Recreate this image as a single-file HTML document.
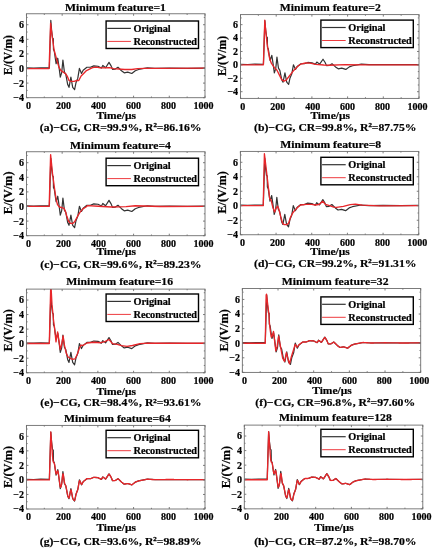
<!DOCTYPE html>
<html><head><meta charset="utf-8"><title>Minimum feature reconstruction</title>
<style>
html,body{margin:0;padding:0;background:#fff;}
body{width:434px;height:550px;overflow:hidden;}
svg{display:block;filter:blur(0.4px);}
svg text{font-family:'Liberation Serif','Times New Roman',serif;font-weight:bold;fill:#000;stroke:#000;stroke-width:0.22px;}
</style></head><body>
<svg width="434" height="550" viewBox="0 0 434 550">
<clipPath id="ca"><rect x="26.45" y="13.77" width="178.55" height="83.93"/></clipPath>
<g clip-path="url(#ca)" fill="none" stroke-linejoin="round">
<polyline points="26.45,67.92 33.59,68.07 40.73,67.78 49.39,67.92 50.80,20.41 51.63,30.56 52.52,37.85 53.29,38.58 53.46,49.53 54.30,51.28 55.20,57.78 56.09,63.76 57.77,58.22 58.89,66.10 60.30,77.19 61.70,72.59 62.91,60.04 64.41,72.08 65.80,74.42 67.70,84.56 69.00,87.34 70.89,77.19 72.69,87.34 74.60,89.67 76.00,82.74 77.80,78.14 79.41,68.36 81.50,73.47 82.91,70.70 83.50,69.97 86.91,67.27 90.41,67.27 93.80,65.88 97.99,66.24 101.41,68.00 102.80,65.44 105.60,67.70 108.99,62.38 111.10,65.88 112.49,69.31 115.30,69.09 117.99,67.27 121.49,70.70 124.21,72.81 127.71,72.08 131.79,73.47 135.29,70.70 138.58,69.46 147.33,67.78 155.01,68.29 169.29,68.07 187.15,68.29 205.00,68.14" stroke="#333333" stroke-width="1.20"/>
<polyline points="26.45,68.60 49.10,68.60 50.60,23.20 52.00,35.00 54.10,50.00 57.20,61.50 59.10,67.60 61.00,70.60 63.30,72.10 65.60,73.70 67.50,76.70 69.00,80.50 70.90,81.30 74.00,81.30 77.00,80.50 78.80,80.50 81.10,76.00 83.40,73.70 86.50,70.60 89.50,69.10 92.60,67.60 96.40,67.20 100.20,67.90 109.60,67.60 113.50,68.70 124.90,69.50 131.80,69.50 137.60,68.70 145.30,68.30 159.80,68.30 205.00,68.20" stroke="#e8262a" stroke-width="1.35"/>
</g>
<rect x="26.45" y="13.77" width="178.55" height="83.93" fill="none" stroke="#6e6e6e" stroke-width="0.90"/>
<path d="M26.45 97.70v-2.00M26.45 13.77v2.00M44.30 97.70v-1.20M44.30 13.77v1.20M62.16 97.70v-2.00M62.16 13.77v2.00M80.02 97.70v-1.20M80.02 13.77v1.20M97.87 97.70v-2.00M97.87 13.77v2.00M115.73 97.70v-1.20M115.73 13.77v1.20M133.58 97.70v-2.00M133.58 13.77v2.00M151.44 97.70v-1.20M151.44 13.77v1.20M169.29 97.70v-2.00M169.29 13.77v2.00M187.14 97.70v-1.20M187.14 13.77v1.20M205.00 97.70v-2.00M205.00 13.77v2.00M26.45 97.70h2.00M205.00 97.70h-2.00M26.45 90.40h1.20M205.00 90.40h-1.20M26.45 83.10h2.00M205.00 83.10h-2.00M26.45 75.81h1.20M205.00 75.81h-1.20M26.45 68.51h2.00M205.00 68.51h-2.00M26.45 61.21h1.20M205.00 61.21h-1.20M26.45 53.91h2.00M205.00 53.91h-2.00M26.45 46.61h1.20M205.00 46.61h-1.20M26.45 39.31h2.00M205.00 39.31h-2.00M26.45 32.02h1.20M205.00 32.02h-1.20M26.45 24.72h2.00M205.00 24.72h-2.00M26.45 17.42h1.20M205.00 17.42h-1.20" stroke="#6e6e6e" stroke-width="0.90" fill="none"/>
<g style="font-size:10.00px"><text x="28.60" y="108.80" text-anchor="middle">0</text><text x="63.60" y="108.80" text-anchor="middle">200</text><text x="98.60" y="108.80" text-anchor="middle">400</text><text x="133.60" y="108.80" text-anchor="middle">600</text><text x="168.60" y="108.80" text-anchor="middle">800</text><text x="203.60" y="108.80" text-anchor="middle">1000</text><text x="24.05" y="101.10" text-anchor="end">−4</text><text x="24.05" y="86.50" text-anchor="end">−2</text><text x="24.05" y="71.91" text-anchor="end">0</text><text x="24.05" y="57.31" text-anchor="end">2</text><text x="24.05" y="42.71" text-anchor="end">4</text><text x="24.05" y="28.12" text-anchor="end">6</text></g>
<text transform="translate(116.12 118.70) scale(1 0.920)" text-anchor="middle" style="font-size:11.50px">Time/μs</text>
<text transform="translate(12.05 55.00) rotate(-90)" text-anchor="middle" style="font-size:11.55px">E/(V/m)</text>
<text transform="translate(115.40 10.60) scale(1 0.880)" text-anchor="middle" style="font-size:11.70px">Minimum feature=1</text>
<text transform="translate(120.65 130.90) scale(1 0.890)" text-anchor="middle" style="font-size:11.70px">(a)−CG, CR=99.9%, R<tspan dy="-4.0" style="font-size:6.9px;stroke:#000;stroke-width:0.35px">2</tspan><tspan dy="4.0">=86.16%</tspan></text>
<rect x="106.10" y="21.00" width="92.40" height="27.50" fill="#fff" stroke="#000" stroke-width="1.4"/>
<path d="M107.30 28.40h23.6" stroke="#333333" stroke-width="1.20"/>
<path d="M107.30 41.40h23.6" stroke="#ee3b3f" stroke-width="1.0"/>
<text x="133.50" y="31.90" style="font-size:10.3px">Original</text>
<text x="133.50" y="44.90" style="font-size:10.3px">Reconstructed</text>
<clipPath id="cb"><rect x="240.50" y="14.60" width="178.50" height="83.80"/></clipPath>
<g clip-path="url(#cb)" fill="none" stroke-linejoin="round">
<polyline points="240.50,64.34 247.64,64.48 254.78,64.21 263.44,64.34 264.85,20.70 265.67,30.02 266.56,36.72 267.33,37.39 267.51,47.45 268.35,49.06 269.24,55.03 270.13,60.52 271.81,55.43 272.93,62.67 274.34,72.86 275.74,68.63 276.95,57.10 278.45,68.16 279.84,70.31 281.73,79.63 283.04,82.18 284.93,72.86 286.73,82.18 288.64,84.32 290.03,77.95 291.84,73.73 293.44,64.75 295.53,69.44 296.94,66.89 297.53,66.22 300.94,63.74 304.44,63.74 307.83,62.47 312.02,62.80 315.43,64.41 316.83,62.06 319.63,64.14 323.02,59.25 325.13,62.47 326.52,65.62 329.32,65.42 332.02,63.74 335.52,66.89 338.23,68.84 341.73,68.16 345.81,69.44 349.31,66.89 352.60,65.75 361.34,64.21 369.02,64.68 383.30,64.48 401.15,64.68 419.00,64.54" stroke="#333333" stroke-width="1.20"/>
<polyline points="240.50,64.81 263.40,64.81 264.79,20.23 265.90,32.23 267.01,43.09 268.01,49.53 269.51,57.97 271.29,63.20 274.20,67.43 277.00,70.18 279.81,75.87 281.70,79.70 284.11,81.10 286.00,80.23 288.39,77.28 291.19,73.60 294.00,70.18 297.30,66.69 300.80,64.08 305.40,63.00 310.01,63.20 315.72,64.41 323.81,65.01 329.57,65.22 344.99,64.68 365.45,64.88 419.00,64.88" stroke="#e8262a" stroke-width="1.35"/>
</g>
<rect x="240.50" y="14.60" width="178.50" height="83.80" fill="none" stroke="#6e6e6e" stroke-width="0.90"/>
<path d="M240.50 98.40v-2.00M240.50 14.60v2.00M258.35 98.40v-1.20M258.35 14.60v1.20M276.20 98.40v-2.00M276.20 14.60v2.00M294.05 98.40v-1.20M294.05 14.60v1.20M311.90 98.40v-2.00M311.90 14.60v2.00M329.75 98.40v-1.20M329.75 14.60v1.20M347.60 98.40v-2.00M347.60 14.60v2.00M365.45 98.40v-1.20M365.45 14.60v1.20M383.30 98.40v-2.00M383.30 14.60v2.00M401.15 98.40v-1.20M401.15 14.60v1.20M419.00 98.40v-2.00M419.00 14.60v2.00M240.50 98.40h1.20M419.00 98.40h-1.20M240.50 91.70h2.00M419.00 91.70h-2.00M240.50 84.99h1.20M419.00 84.99h-1.20M240.50 78.29h2.00M419.00 78.29h-2.00M240.50 71.58h1.20M419.00 71.58h-1.20M240.50 64.88h2.00M419.00 64.88h-2.00M240.50 58.18h1.20M419.00 58.18h-1.20M240.50 51.47h2.00M419.00 51.47h-2.00M240.50 44.77h1.20M419.00 44.77h-1.20M240.50 38.06h2.00M419.00 38.06h-2.00M240.50 31.36h1.20M419.00 31.36h-1.20M240.50 24.66h2.00M419.00 24.66h-2.00M240.50 17.95h1.20M419.00 17.95h-1.20" stroke="#6e6e6e" stroke-width="0.90" fill="none"/>
<g style="font-size:10.00px"><text x="242.65" y="109.50" text-anchor="middle">0</text><text x="277.64" y="109.50" text-anchor="middle">200</text><text x="312.63" y="109.50" text-anchor="middle">400</text><text x="347.62" y="109.50" text-anchor="middle">600</text><text x="382.61" y="109.50" text-anchor="middle">800</text><text x="417.60" y="109.50" text-anchor="middle">1000</text><text x="238.10" y="95.10" text-anchor="end">−4</text><text x="238.10" y="81.69" text-anchor="end">−2</text><text x="238.10" y="68.28" text-anchor="end">0</text><text x="238.10" y="54.87" text-anchor="end">2</text><text x="238.10" y="41.46" text-anchor="end">4</text><text x="238.10" y="28.06" text-anchor="end">6</text></g>
<text transform="translate(330.15 119.40) scale(1 0.920)" text-anchor="middle" style="font-size:11.50px">Time/μs</text>
<text transform="translate(225.95 55.95) rotate(-90)" text-anchor="middle" style="font-size:11.60px">E/(V/m)</text>
<text transform="translate(330.25 10.90) scale(1 0.880)" text-anchor="middle" style="font-size:11.70px">Minimum feature=2</text>
<text transform="translate(335.30 130.90) scale(1 0.890)" text-anchor="middle" style="font-size:11.70px">(b)−CG, CR=99.8%, R<tspan dy="-4.0" style="font-size:6.9px;stroke:#000;stroke-width:0.35px">2</tspan><tspan dy="4.0">=87.75%</tspan></text>
<rect x="320.90" y="20.10" width="92.40" height="27.50" fill="#fff" stroke="#000" stroke-width="1.4"/>
<path d="M322.10 27.50h23.6" stroke="#333333" stroke-width="1.20"/>
<path d="M322.10 40.50h23.6" stroke="#ee3b3f" stroke-width="1.0"/>
<text x="348.30" y="31.00" style="font-size:10.3px">Original</text>
<text x="348.30" y="44.00" style="font-size:10.3px">Reconstructed</text>
<clipPath id="cc"><rect x="26.45" y="151.75" width="178.55" height="83.95"/></clipPath>
<g clip-path="url(#cc)" fill="none" stroke-linejoin="round">
<polyline points="26.45,205.92 33.59,206.06 40.73,205.77 49.39,205.92 50.80,158.39 51.63,168.54 52.52,175.84 53.29,176.57 53.46,187.52 54.30,189.27 55.20,195.77 56.09,201.75 57.77,196.21 58.89,204.09 60.30,215.19 61.70,210.59 62.91,198.03 64.41,210.08 65.80,212.41 67.70,222.56 69.00,225.33 70.89,215.19 72.69,225.33 74.60,227.67 76.00,220.73 77.80,216.14 79.41,206.35 81.50,211.46 82.91,208.69 83.50,207.96 86.91,205.26 90.41,205.26 93.80,203.87 97.99,204.24 101.41,205.99 102.80,203.43 105.60,205.70 108.99,200.37 111.10,203.87 112.49,207.30 115.30,207.08 117.99,205.26 121.49,208.69 124.21,210.81 127.71,210.08 131.79,211.46 135.29,208.69 138.58,207.45 147.33,205.77 155.01,206.28 169.29,206.06 187.15,206.28 205.00,206.13" stroke="#333333" stroke-width="1.20"/>
<polyline points="26.45,206.35 49.20,206.35 50.61,154.67 52.52,173.65 54.75,190.00 56.09,199.20 57.50,204.68 59.39,207.01 61.70,207.52 64.00,208.40 65.37,211.17 66.70,215.77 68.59,221.32 70.43,223.22 72.69,223.58 74.60,221.83 77.30,216.72 80.10,212.12 82.91,208.91 86.00,207.01 87.41,205.70 98.41,206.21 111.26,207.01 126.08,206.57 135.29,205.77 160.01,206.50 205.00,206.35" stroke="#e8262a" stroke-width="1.35"/>
</g>
<rect x="26.45" y="151.75" width="178.55" height="83.95" fill="none" stroke="#6e6e6e" stroke-width="0.90"/>
<path d="M26.45 235.70v-2.00M26.45 151.75v2.00M44.30 235.70v-1.20M44.30 151.75v1.20M62.16 235.70v-2.00M62.16 151.75v2.00M80.02 235.70v-1.20M80.02 151.75v1.20M97.87 235.70v-2.00M97.87 151.75v2.00M115.73 235.70v-1.20M115.73 151.75v1.20M133.58 235.70v-2.00M133.58 151.75v2.00M151.44 235.70v-1.20M151.44 151.75v1.20M169.29 235.70v-2.00M169.29 151.75v2.00M187.14 235.70v-1.20M187.14 151.75v1.20M205.00 235.70v-2.00M205.00 151.75v2.00M26.45 235.70h2.00M205.00 235.70h-2.00M26.45 228.40h1.20M205.00 228.40h-1.20M26.45 221.10h2.00M205.00 221.10h-2.00M26.45 213.80h1.20M205.00 213.80h-1.20M26.45 206.50h2.00M205.00 206.50h-2.00M26.45 199.20h1.20M205.00 199.20h-1.20M26.45 191.90h2.00M205.00 191.90h-2.00M26.45 184.60h1.20M205.00 184.60h-1.20M26.45 177.30h2.00M205.00 177.30h-2.00M26.45 170.00h1.20M205.00 170.00h-1.20M26.45 162.70h2.00M205.00 162.70h-2.00M26.45 155.40h1.20M205.00 155.40h-1.20" stroke="#6e6e6e" stroke-width="0.90" fill="none"/>
<g style="font-size:10.00px"><text x="28.60" y="246.80" text-anchor="middle">0</text><text x="63.60" y="246.80" text-anchor="middle">200</text><text x="98.60" y="246.80" text-anchor="middle">400</text><text x="133.60" y="246.80" text-anchor="middle">600</text><text x="168.60" y="246.80" text-anchor="middle">800</text><text x="203.60" y="246.80" text-anchor="middle">1000</text><text x="24.05" y="239.10" text-anchor="end">−4</text><text x="24.05" y="224.50" text-anchor="end">−2</text><text x="24.05" y="209.90" text-anchor="end">0</text><text x="24.05" y="195.30" text-anchor="end">2</text><text x="24.05" y="180.70" text-anchor="end">4</text><text x="24.05" y="166.10" text-anchor="end">6</text></g>
<text transform="translate(116.12 255.10) scale(1 0.920)" text-anchor="middle" style="font-size:11.50px">Time/μs</text>
<text transform="translate(11.95 192.80) rotate(-90)" text-anchor="middle" style="font-size:12.40px">E/(V/m)</text>
<text transform="translate(120.40 149.30) scale(1 0.880)" text-anchor="middle" style="font-size:11.70px">Minimum feature=4</text>
<text transform="translate(120.90 267.50) scale(1 0.890)" text-anchor="middle" style="font-size:11.70px">(c)−CG, CR=99.6%, R<tspan dy="-4.0" style="font-size:6.9px;stroke:#000;stroke-width:0.35px">2</tspan><tspan dy="4.0">=89.23%</tspan></text>
<rect x="106.10" y="158.20" width="92.40" height="27.50" fill="#fff" stroke="#000" stroke-width="1.4"/>
<path d="M107.30 165.60h23.6" stroke="#333333" stroke-width="1.20"/>
<path d="M107.30 178.60h23.6" stroke="#ee3b3f" stroke-width="1.0"/>
<text x="133.50" y="169.10" style="font-size:10.3px">Original</text>
<text x="133.50" y="182.10" style="font-size:10.3px">Reconstructed</text>
<clipPath id="cd"><rect x="240.40" y="151.40" width="178.35" height="83.35"/></clipPath>
<g clip-path="url(#cd)" fill="none" stroke-linejoin="round">
<polyline points="240.40,205.18 247.53,205.32 254.67,205.03 263.32,205.18 264.73,158.00 265.55,168.07 266.44,175.32 267.21,176.04 267.38,186.91 268.22,188.65 269.11,195.10 270.01,201.05 271.68,195.54 272.81,203.37 274.22,214.38 275.61,209.82 276.82,197.35 278.32,209.31 279.71,211.63 281.60,221.70 282.90,224.46 284.79,214.38 286.59,224.46 288.50,226.78 289.89,219.89 291.69,215.33 293.30,205.61 295.39,210.69 296.79,207.93 297.38,207.21 300.79,204.53 304.28,204.53 307.67,203.15 311.86,203.51 315.27,205.25 316.66,202.71 319.46,204.96 322.85,199.67 324.96,203.15 326.35,206.56 329.15,206.34 331.84,204.53 335.34,207.93 338.05,210.03 341.54,209.31 345.63,210.69 349.12,207.93 352.40,206.70 361.14,205.03 368.81,205.54 383.08,205.32 400.91,205.54 418.75,205.40" stroke="#333333" stroke-width="1.20"/>
<polyline points="240.40,205.61 263.23,205.61 264.41,153.79 265.99,166.98 267.51,180.17 268.40,187.78 268.79,190.03 269.70,198.80 271.09,200.11 272.90,207.50 274.61,212.06 276.11,208.37 277.50,206.12 278.91,209.38 280.71,216.70 282.60,223.23 284.01,224.60 286.70,224.60 288.61,223.23 290.39,217.57 292.69,213.01 294.99,210.11 297.79,207.35 300.50,205.03 306.10,204.38 311.60,204.38 315.70,205.03 319.20,204.38 322.71,201.27 325.40,204.38 329.59,205.69 333.68,207.14 336.49,207.43 343.40,206.41 350.19,204.67 355.40,204.16 362.30,205.18 379.60,205.90 418.75,205.61" stroke="#e8262a" stroke-width="1.35"/>
</g>
<rect x="240.40" y="151.40" width="178.35" height="83.35" fill="none" stroke="#6e6e6e" stroke-width="0.90"/>
<path d="M240.40 234.75v-2.00M240.40 151.40v2.00M258.24 234.75v-1.20M258.24 151.40v1.20M276.07 234.75v-2.00M276.07 151.40v2.00M293.90 234.75v-1.20M293.90 151.40v1.20M311.74 234.75v-2.00M311.74 151.40v2.00M329.57 234.75v-1.20M329.57 151.40v1.20M347.41 234.75v-2.00M347.41 151.40v2.00M365.25 234.75v-1.20M365.25 151.40v1.20M383.08 234.75v-2.00M383.08 151.40v2.00M400.91 234.75v-1.20M400.91 151.40v1.20M418.75 234.75v-2.00M418.75 151.40v2.00M240.40 234.75h2.00M418.75 234.75h-2.00M240.40 227.50h1.20M418.75 227.50h-1.20M240.40 220.25h2.00M418.75 220.25h-2.00M240.40 213.01h1.20M418.75 213.01h-1.20M240.40 205.76h2.00M418.75 205.76h-2.00M240.40 198.51h1.20M418.75 198.51h-1.20M240.40 191.26h2.00M418.75 191.26h-2.00M240.40 184.02h1.20M418.75 184.02h-1.20M240.40 176.77h2.00M418.75 176.77h-2.00M240.40 169.52h1.20M418.75 169.52h-1.20M240.40 162.27h2.00M418.75 162.27h-2.00M240.40 155.02h1.20M418.75 155.02h-1.20" stroke="#6e6e6e" stroke-width="0.90" fill="none"/>
<g style="font-size:10.00px"><text x="242.55" y="245.85" text-anchor="middle">0</text><text x="277.51" y="245.85" text-anchor="middle">200</text><text x="312.47" y="245.85" text-anchor="middle">400</text><text x="347.43" y="245.85" text-anchor="middle">600</text><text x="382.39" y="245.85" text-anchor="middle">800</text><text x="417.35" y="245.85" text-anchor="middle">1000</text><text x="238.00" y="238.15" text-anchor="end">−4</text><text x="238.00" y="223.65" text-anchor="end">−2</text><text x="238.00" y="209.16" text-anchor="end">0</text><text x="238.00" y="194.66" text-anchor="end">2</text><text x="238.00" y="180.17" text-anchor="end">4</text><text x="238.00" y="165.67" text-anchor="end">6</text></g>
<text transform="translate(329.97 254.50) scale(1 0.920)" text-anchor="middle" style="font-size:11.50px">Time/μs</text>
<text transform="translate(226.15 192.40) rotate(-90)" text-anchor="middle" style="font-size:12.35px">E/(V/m)</text>
<text transform="translate(330.65 147.60) scale(1 0.880)" text-anchor="middle" style="font-size:11.70px">Minimum feature=8</text>
<text transform="translate(335.25 267.00) scale(1 0.890)" text-anchor="middle" style="font-size:11.70px">(d)−CG, CR=99.2%, R<tspan dy="-4.0" style="font-size:6.9px;stroke:#000;stroke-width:0.35px">2</tspan><tspan dy="4.0">=91.31%</tspan></text>
<rect x="320.90" y="157.30" width="92.40" height="27.50" fill="#fff" stroke="#000" stroke-width="1.4"/>
<path d="M322.10 164.70h23.6" stroke="#333333" stroke-width="1.20"/>
<path d="M322.10 177.70h23.6" stroke="#ee3b3f" stroke-width="1.0"/>
<text x="348.30" y="168.20" style="font-size:10.3px">Original</text>
<text x="348.30" y="181.20" style="font-size:10.3px">Reconstructed</text>
<clipPath id="ce"><rect x="26.45" y="289.10" width="178.55" height="83.65"/></clipPath>
<g clip-path="url(#ce)" fill="none" stroke-linejoin="round">
<polyline points="26.45,343.07 33.59,343.22 40.73,342.93 49.39,343.07 50.80,295.72 51.63,305.83 52.52,313.10 53.29,313.83 53.46,324.74 54.30,326.49 55.20,332.96 56.09,338.93 57.77,333.40 58.89,341.25 60.30,352.31 61.70,347.73 62.91,335.22 64.41,347.22 65.80,349.55 67.70,359.66 69.00,362.42 70.89,352.31 72.69,362.42 74.60,364.75 76.00,357.84 77.80,353.26 79.41,343.51 81.50,348.60 82.91,345.84 83.50,345.11 86.91,342.42 90.41,342.42 93.80,341.04 97.99,341.40 101.41,343.15 102.80,340.60 105.60,342.85 108.99,337.54 111.10,341.04 112.49,344.45 115.30,344.24 117.99,342.42 121.49,345.84 124.21,347.95 127.71,347.22 131.79,348.60 135.29,345.84 138.58,344.60 147.33,342.93 155.01,343.44 169.29,343.22 187.15,343.44 205.00,343.29" stroke="#333333" stroke-width="1.20"/>
<polyline points="26.45,343.51 49.30,343.51 50.82,282.55 52.00,304.88 53.00,314.41 53.50,320.01 54.39,326.63 55.30,335.07 56.00,341.84 57.61,331.87 58.89,340.38 60.30,349.62 61.70,344.09 63.11,335.80 64.41,345.04 66.30,353.33 68.11,357.04 70.41,358.42 72.69,359.29 75.00,358.93 77.30,354.27 79.19,348.67 81.00,345.04 82.91,345.47 86.91,343.00 93.80,342.27 100.71,342.71 104.90,341.62 108.99,339.51 112.49,343.65 117.30,344.38 121.49,345.69 126.99,346.42 132.49,345.47 139.99,343.65 147.86,343.07 205.00,343.29" stroke="#e8262a" stroke-width="1.35"/>
</g>
<rect x="26.45" y="289.10" width="178.55" height="83.65" fill="none" stroke="#6e6e6e" stroke-width="0.90"/>
<path d="M26.45 372.75v-2.00M26.45 289.10v2.00M44.30 372.75v-1.20M44.30 289.10v1.20M62.16 372.75v-2.00M62.16 289.10v2.00M80.02 372.75v-1.20M80.02 289.10v1.20M97.87 372.75v-2.00M97.87 289.10v2.00M115.73 372.75v-1.20M115.73 289.10v1.20M133.58 372.75v-2.00M133.58 289.10v2.00M151.44 372.75v-1.20M151.44 289.10v1.20M169.29 372.75v-2.00M169.29 289.10v2.00M187.14 372.75v-1.20M187.14 289.10v1.20M205.00 372.75v-2.00M205.00 289.10v2.00M26.45 372.75h2.00M205.00 372.75h-2.00M26.45 365.48h1.20M205.00 365.48h-1.20M26.45 358.20h2.00M205.00 358.20h-2.00M26.45 350.93h1.20M205.00 350.93h-1.20M26.45 343.65h2.00M205.00 343.65h-2.00M26.45 336.38h1.20M205.00 336.38h-1.20M26.45 329.11h2.00M205.00 329.11h-2.00M26.45 321.83h1.20M205.00 321.83h-1.20M26.45 314.56h2.00M205.00 314.56h-2.00M26.45 307.28h1.20M205.00 307.28h-1.20M26.45 300.01h2.00M205.00 300.01h-2.00M26.45 292.74h1.20M205.00 292.74h-1.20" stroke="#6e6e6e" stroke-width="0.90" fill="none"/>
<g style="font-size:10.00px"><text x="28.60" y="383.85" text-anchor="middle">0</text><text x="63.60" y="383.85" text-anchor="middle">200</text><text x="98.60" y="383.85" text-anchor="middle">400</text><text x="133.60" y="383.85" text-anchor="middle">600</text><text x="168.60" y="383.85" text-anchor="middle">800</text><text x="203.60" y="383.85" text-anchor="middle">1000</text><text x="24.05" y="376.15" text-anchor="end">−4</text><text x="24.05" y="361.60" text-anchor="end">−2</text><text x="24.05" y="347.05" text-anchor="end">0</text><text x="24.05" y="332.51" text-anchor="end">2</text><text x="24.05" y="317.96" text-anchor="end">4</text><text x="24.05" y="303.41" text-anchor="end">6</text></g>
<text transform="translate(116.12 394.80) scale(1 0.920)" text-anchor="middle" style="font-size:11.50px">Time/μs</text>
<text transform="translate(12.05 330.30) rotate(-90)" text-anchor="middle" style="font-size:12.30px">E/(V/m)</text>
<text transform="translate(119.60 285.30) scale(1 0.880)" text-anchor="middle" style="font-size:11.70px">Minimum feature=16</text>
<text transform="translate(120.90 406.30) scale(1 0.890)" text-anchor="middle" style="font-size:11.70px">(e)−CG, CR=98.4%, R<tspan dy="-4.0" style="font-size:6.9px;stroke:#000;stroke-width:0.35px">2</tspan><tspan dy="4.0">=93.61%</tspan></text>
<rect x="106.10" y="294.00" width="92.40" height="27.50" fill="#fff" stroke="#000" stroke-width="1.4"/>
<path d="M107.30 301.40h23.6" stroke="#333333" stroke-width="1.20"/>
<path d="M107.30 314.40h23.6" stroke="#ee3b3f" stroke-width="1.0"/>
<text x="133.50" y="304.90" style="font-size:10.3px">Original</text>
<text x="133.50" y="317.90" style="font-size:10.3px">Reconstructed</text>
<clipPath id="cf"><rect x="242.35" y="288.50" width="178.35" height="83.90"/></clipPath>
<g clip-path="url(#cf)" fill="none" stroke-linejoin="round">
<polyline points="242.35,342.63 249.48,342.78 256.62,342.49 265.27,342.63 266.68,295.14 267.50,305.28 268.39,312.58 269.16,313.31 269.33,324.25 270.17,326.00 271.06,332.49 271.96,338.48 273.63,332.93 274.76,340.81 276.17,351.90 277.56,347.30 278.77,334.75 280.27,346.79 281.66,349.13 283.55,359.27 284.85,362.04 286.74,351.90 288.54,362.04 290.45,364.37 291.84,357.44 293.64,352.85 295.25,343.07 297.34,348.18 298.74,345.41 299.33,344.68 302.74,341.98 306.23,341.98 309.62,340.59 313.81,340.96 317.22,342.71 318.61,340.15 321.41,342.41 324.80,337.09 326.91,340.59 328.30,344.02 331.10,343.80 333.79,341.98 337.29,345.41 340.00,347.52 343.49,346.79 347.58,348.18 351.07,345.41 354.35,344.17 363.09,342.49 370.76,343.00 385.03,342.78 402.87,343.00 420.70,342.85" stroke="#333333" stroke-width="1.20"/>
<polyline points="242.35,343.22 265.27,343.22 266.16,295.07 266.52,294.12 266.96,297.98 268.00,306.89 269.00,315.42 269.49,323.88 270.40,331.47 271.21,337.02 271.80,337.09 273.51,331.47 275.81,350.80 277.20,346.21 278.61,336.07 280.39,346.21 282.69,358.17 284.60,361.38 286.40,352.63 287.79,358.17 289.51,363.72 291.50,356.28 293.80,348.98 295.20,344.38 297.00,347.08 298.90,344.82 302.01,342.49 302.63,342.14 302.99,342.02 303.35,341.98 303.70,341.98 304.06,341.98 304.42,341.98 304.77,341.98 305.13,341.98 305.49,341.98 305.84,341.97 306.20,341.93 306.56,341.83 306.91,341.70 307.27,341.55 307.63,341.41 307.98,341.26 308.34,341.12 308.70,340.97 309.05,340.83 309.41,340.71 309.77,340.64 310.12,340.64 310.48,340.67 310.84,340.70 311.19,340.73 311.55,340.76 311.91,340.79 312.26,340.82 312.62,340.85 312.98,340.88 313.33,340.92 313.69,340.98 314.05,341.10 314.40,341.26 314.76,341.44 315.12,341.62 315.47,341.81 315.83,341.99 316.19,342.17 316.54,342.35 316.90,342.46 317.26,342.35 317.61,341.93 317.97,341.34 318.33,340.79 318.68,340.50 319.04,340.55 319.40,340.79 319.75,341.08 320.11,341.36 320.47,341.65 320.82,341.92 321.18,342.10 321.54,342.01 321.89,341.62 322.25,341.09 322.61,340.54 322.96,339.98 323.32,339.42 323.68,338.86 324.03,338.30 324.39,337.81 324.75,337.55 325.10,337.72 325.46,338.20 325.82,338.78 326.17,339.38 326.53,339.99 326.89,340.67 327.24,341.45 327.60,342.30 327.96,343.10 328.31,343.68 328.67,343.92 329.03,343.96 329.38,343.93 329.74,343.91 330.10,343.88 330.45,343.85 330.81,343.80 331.17,343.69 331.52,343.50 331.88,343.27 332.24,343.03 332.60,342.79 332.95,342.55 333.31,342.33 333.67,342.21 334.02,342.30 334.38,342.57 334.74,342.91 335.09,343.25 335.45,343.60 335.81,343.95 336.16,344.30 336.52,344.65 336.88,345.00 337.23,345.33 337.59,345.63 337.95,345.92 338.30,346.20 338.66,346.48 339.02,346.76 339.37,347.03 339.73,347.27 340.09,347.40 340.44,347.41 340.80,347.35 341.16,347.28 341.51,347.21 341.87,347.13 342.23,347.06 342.58,346.98 342.94,346.91 343.30,346.87 343.65,346.89 344.01,346.97 344.37,347.09 344.72,347.21 345.08,347.33 345.44,347.45 345.79,347.57 346.15,347.69 346.51,347.82 346.86,347.93 347.22,348.02 347.58,348.02 347.93,347.86 348.29,347.61 348.65,347.33 349.00,347.05 349.36,346.76 349.72,346.48 350.07,346.20 350.43,345.92 350.79,345.65 351.14,345.42 351.50,345.25 351.86,345.11 352.21,344.97 352.57,344.84 352.93,344.71 353.28,344.57 353.64,344.44 354.00,344.31 354.35,344.19 354.71,344.10 355.07,344.03 355.42,343.96 355.78,343.89 356.14,343.82 356.49,343.75 356.85,343.69 357.21,343.62 357.56,343.55 357.92,343.48 358.28,343.41 358.63,343.34 358.99,343.28 359.35,343.21 359.70,343.14 360.06,343.07 360.42,343.00 360.77,342.93 361.13,342.86 361.49,342.80 361.84,342.73 362.20,342.66 362.56,342.59 362.91,342.54 363.27,342.52 363.63,342.53 363.98,342.55 364.34,342.57 364.70,342.59 365.05,342.62 365.41,342.64 365.77,342.67 366.12,342.69 366.48,342.71 366.84,342.74 367.19,342.76 367.55,342.78 367.91,342.81 368.27,342.83 368.62,342.86 368.98,342.88 369.34,342.90 369.69,342.93 370.05,342.95 370.41,342.97 370.76,342.99 371.12,342.99 371.48,342.99 371.83,342.98 372.19,342.98 372.55,342.97 372.90,342.97 373.26,342.96 373.62,342.95 373.97,342.95 374.33,342.94 374.69,342.94 375.04,342.93 375.40,342.93 375.76,342.92 376.11,342.92 376.47,342.91 376.83,342.91 377.18,342.90 377.54,342.89 377.90,342.89 378.25,342.88 378.61,342.88 378.97,342.87 379.32,342.87 379.68,342.86 380.04,342.86 380.39,342.85 380.75,342.85 381.11,342.84 381.46,342.83 381.82,342.83 382.18,342.82 382.53,342.82 382.89,342.81 383.25,342.81 383.60,342.80 383.96,342.80 384.32,342.79 384.67,342.79 385.03,342.78 385.39,342.78 385.74,342.79 386.10,342.79 386.46,342.80 386.81,342.80 387.17,342.81 387.53,342.81 387.88,342.81 388.24,342.82 388.60,342.82 388.95,342.83 389.31,342.83 389.67,342.84 390.02,342.84 390.38,342.85 390.74,342.85 391.09,342.85 391.45,342.86 391.81,342.86 392.16,342.87 392.52,342.87 392.88,342.88 393.23,342.88 393.59,342.88 393.95,342.89 394.30,342.89 394.66,342.90 395.02,342.90 395.37,342.91 395.73,342.91 396.09,342.92 396.44,342.92 396.80,342.92 397.16,342.93 397.51,342.93 397.87,342.94 398.23,342.94 398.58,342.95 398.94,342.95 399.30,342.95 399.65,342.96 400.01,342.96 400.37,342.97 400.72,342.97 401.08,342.98 401.44,342.98 401.79,342.99 402.15,342.99 402.51,342.99 402.87,343.00 403.22,343.00 403.58,342.99 403.94,342.99 404.29,342.99 404.65,342.98 405.01,342.98 405.36,342.98 405.72,342.98 406.08,342.97 406.43,342.97 406.79,342.97 407.15,342.96 407.50,342.96 407.86,342.96 408.22,342.95 408.57,342.95 408.93,342.95 409.29,342.95 409.64,342.94 410.00,342.94 410.36,342.94 410.71,342.93 411.07,342.93 411.43,342.93 411.78,342.93 412.14,342.92 412.50,342.92 412.85,342.92 413.21,342.91 413.57,342.91 413.92,342.91 414.28,342.91 414.64,342.90 414.99,342.90 415.35,342.90 415.71,342.89 416.06,342.89 416.42,342.89 416.78,342.88 417.13,342.88 417.49,342.88 417.85,342.88 418.20,342.87 418.56,342.87 418.92,342.87 419.27,342.86 419.63,342.86 419.99,342.86 420.34,342.86 420.70,342.85" stroke="#e8262a" stroke-width="1.35"/>
</g>
<rect x="242.35" y="288.50" width="178.35" height="83.90" fill="none" stroke="#6e6e6e" stroke-width="0.90"/>
<path d="M242.35 372.40v-2.00M242.35 288.50v2.00M260.19 372.40v-1.20M260.19 288.50v1.20M278.02 372.40v-2.00M278.02 288.50v2.00M295.86 372.40v-1.20M295.86 288.50v1.20M313.69 372.40v-2.00M313.69 288.50v2.00M331.52 372.40v-1.20M331.52 288.50v1.20M349.36 372.40v-2.00M349.36 288.50v2.00M367.19 372.40v-1.20M367.19 288.50v1.20M385.03 372.40v-2.00M385.03 288.50v2.00M402.87 372.40v-1.20M402.87 288.50v1.20M420.70 372.40v-2.00M420.70 288.50v2.00M242.35 372.40h2.00M420.70 372.40h-2.00M242.35 365.10h1.20M420.70 365.10h-1.20M242.35 357.81h2.00M420.70 357.81h-2.00M242.35 350.51h1.20M420.70 350.51h-1.20M242.35 343.22h2.00M420.70 343.22h-2.00M242.35 335.92h1.20M420.70 335.92h-1.20M242.35 328.63h2.00M420.70 328.63h-2.00M242.35 321.33h1.20M420.70 321.33h-1.20M242.35 314.03h2.00M420.70 314.03h-2.00M242.35 306.74h1.20M420.70 306.74h-1.20M242.35 299.44h2.00M420.70 299.44h-2.00M242.35 292.15h1.20M420.70 292.15h-1.20" stroke="#6e6e6e" stroke-width="0.90" fill="none"/>
<g style="font-size:10.00px"><text x="244.50" y="383.50" text-anchor="middle">0</text><text x="279.46" y="383.50" text-anchor="middle">200</text><text x="314.42" y="383.50" text-anchor="middle">400</text><text x="349.38" y="383.50" text-anchor="middle">600</text><text x="384.34" y="383.50" text-anchor="middle">800</text><text x="419.30" y="383.50" text-anchor="middle">1000</text><text x="239.95" y="375.80" text-anchor="end">−4</text><text x="239.95" y="361.21" text-anchor="end">−2</text><text x="239.95" y="346.62" text-anchor="end">0</text><text x="239.95" y="332.03" text-anchor="end">2</text><text x="239.95" y="317.43" text-anchor="end">4</text><text x="239.95" y="302.84" text-anchor="end">6</text></g>
<text transform="translate(331.92 393.70) scale(1 0.920)" text-anchor="middle" style="font-size:11.50px">Time/μs</text>
<text transform="translate(228.15 330.30) rotate(-90)" text-anchor="middle" style="font-size:12.30px">E/(V/m)</text>
<text transform="translate(335.10 285.00) scale(1 0.880)" text-anchor="middle" style="font-size:11.70px">Minimum feature=32</text>
<text transform="translate(335.25 405.80) scale(1 0.890)" text-anchor="middle" style="font-size:11.70px">(f)−CG, CR=96.8%, R<tspan dy="-4.0" style="font-size:6.9px;stroke:#000;stroke-width:0.35px">2</tspan><tspan dy="4.0">=97.60%</tspan></text>
<rect x="320.90" y="296.90" width="92.40" height="27.50" fill="#fff" stroke="#000" stroke-width="1.4"/>
<path d="M322.10 304.30h23.6" stroke="#333333" stroke-width="1.20"/>
<path d="M322.10 317.30h23.6" stroke="#ee3b3f" stroke-width="1.0"/>
<text x="348.30" y="307.80" style="font-size:10.3px">Original</text>
<text x="348.30" y="320.80" style="font-size:10.3px">Reconstructed</text>
<clipPath id="cg"><rect x="26.45" y="425.40" width="178.55" height="83.60"/></clipPath>
<g clip-path="url(#cg)" fill="none" stroke-linejoin="round">
<polyline points="26.45,479.34 33.59,479.49 40.73,479.19 49.39,479.34 50.80,432.02 51.63,442.12 52.52,449.39 53.29,450.12 53.46,461.02 54.30,462.77 55.20,469.24 56.09,475.20 57.77,469.67 58.89,477.52 60.30,488.57 61.70,483.99 62.91,471.49 64.41,483.48 65.80,485.81 67.70,495.91 69.00,498.68 70.89,488.57 72.69,498.68 74.60,501.00 76.00,494.10 77.80,489.52 79.41,479.78 81.50,484.87 82.91,482.10 83.50,481.38 86.91,478.69 90.41,478.69 93.80,477.30 97.99,477.67 101.41,479.41 102.80,476.87 105.60,479.12 108.99,473.82 111.10,477.30 112.49,480.72 115.30,480.50 117.99,478.69 121.49,482.10 124.21,484.21 127.71,483.48 131.79,484.87 135.29,482.10 138.58,480.87 147.33,479.19 155.01,479.70 169.29,479.49 187.15,479.70 205.00,479.56" stroke="#333333" stroke-width="1.20"/>
<polyline points="26.45,479.92 49.39,479.92 50.80,432.02 51.45,441.39 51.98,448.66 52.43,455.21 52.96,460.66 53.59,462.47 54.30,463.02 54.66,464.96 55.02,467.41 55.38,469.91 55.73,472.25 56.09,473.91 56.45,474.02 56.80,473.07 57.16,471.91 57.52,470.92 57.87,470.92 58.23,472.53 58.59,474.92 58.95,477.49 59.30,480.19 59.66,482.97 60.02,485.62 60.37,487.31 60.73,487.24 61.09,486.21 61.45,484.92 61.80,482.95 62.16,479.87 62.52,476.38 62.87,473.85 63.23,474.04 63.59,476.38 63.95,479.18 64.30,481.76 64.66,483.49 65.02,484.36 65.37,484.99 65.73,485.78 66.09,487.09 66.45,488.87 66.80,490.77 67.16,492.67 67.52,494.49 67.87,495.92 68.23,496.88 68.59,497.61 68.94,497.95 69.30,497.19 69.66,495.52 70.02,493.62 70.37,491.74 70.73,490.18 71.09,489.95 71.44,491.33 71.80,493.28 72.16,495.27 72.52,497.15 72.87,498.51 73.23,499.22 73.59,499.68 73.94,500.11 74.30,500.47 74.66,500.33 75.02,499.22 75.37,497.55 75.73,495.82 76.09,494.30 76.44,493.17 76.80,492.24 77.16,491.33 77.52,490.37 77.87,489.12 78.23,487.30 78.59,485.19 78.94,483.05 79.30,481.25 79.66,480.60 80.02,481.11 80.37,481.95 80.73,482.82 81.09,483.67 81.44,484.29 81.80,484.26 82.16,483.70 82.51,483.02 82.87,482.36 83.23,481.82 83.59,481.41 83.94,481.09 84.30,480.80 84.66,480.52 85.01,480.23 85.37,479.95 85.73,479.67 86.09,479.39 86.44,479.11 86.80,478.86 87.16,478.72 87.51,478.69 87.87,478.69 88.23,478.69 88.59,478.69 88.94,478.69 89.30,478.69 89.66,478.69 90.01,478.68 90.37,478.66 90.73,478.57 91.09,478.44 91.44,478.29 91.80,478.15 92.16,478.00 92.51,477.86 92.87,477.71 93.23,477.57 93.58,477.43 93.94,477.35 94.30,477.35 94.66,477.37 95.01,477.40 95.37,477.43 95.73,477.47 96.08,477.50 96.44,477.53 96.80,477.56 97.16,477.59 97.51,477.62 97.87,477.67 98.23,477.77 98.58,477.93 98.94,478.12 99.30,478.30 99.66,478.48 100.01,478.66 100.37,478.85 100.73,479.03 101.08,479.19 101.44,479.17 101.80,478.78 102.16,478.17 102.51,477.56 102.87,477.17 103.23,477.19 103.58,477.44 103.94,477.73 104.30,478.02 104.65,478.30 105.01,478.59 105.37,478.83 105.73,478.83 106.08,478.46 106.44,477.92 106.80,477.36 107.15,476.80 107.51,476.25 107.87,475.69 108.23,475.13 108.58,474.59 108.94,474.21 109.30,474.31 109.65,474.80 110.01,475.38 110.37,475.97 110.73,476.57 111.08,477.22 111.44,477.98 111.80,478.84 112.15,479.69 112.51,480.36 112.87,480.64 113.23,480.67 113.58,480.64 113.94,480.61 114.30,480.59 114.65,480.56 115.01,480.52 115.37,480.44 115.73,480.25 116.08,480.02 116.44,479.78 116.80,479.54 117.15,479.30 117.51,479.06 117.87,478.89 118.22,478.93 118.58,479.20 118.94,479.54 119.30,479.89 119.65,480.24 120.01,480.59 120.37,480.93 120.72,481.28 121.08,481.63 121.44,481.97 121.80,482.28 122.15,482.56 122.51,482.84 122.87,483.12 123.22,483.39 123.58,483.67 123.94,483.93 124.30,484.10 124.65,484.12 125.01,484.06 125.37,483.98 125.72,483.91 126.08,483.84 126.44,483.76 126.80,483.69 127.15,483.61 127.51,483.55 127.87,483.55 128.22,483.64 128.58,483.76 128.94,483.88 129.29,484.00 129.65,484.12 130.01,484.24 130.37,484.36 130.72,484.48 131.08,484.60 131.44,484.71 131.79,484.75 132.15,484.61 132.51,484.36 132.87,484.08 133.22,483.79 133.58,483.51 133.94,483.23 134.29,482.95 134.65,482.67 135.01,482.39 135.37,482.15 135.72,481.97 136.08,481.83 136.44,481.70 136.79,481.57 137.15,481.43 137.51,481.30 137.87,481.16 138.22,481.03 138.58,480.91 138.94,480.82 139.29,480.74 139.65,480.68 140.01,480.61 140.36,480.54 140.72,480.47 141.08,480.40 141.44,480.33 141.79,480.27 142.15,480.20 142.51,480.13 142.86,480.06 143.22,479.99 143.58,479.92 143.94,479.86 144.29,479.79 144.65,479.72 145.01,479.65 145.36,479.58 145.72,479.52 146.08,479.45 146.44,479.38 146.79,479.31 147.15,479.25 147.51,479.22 147.86,479.23 148.22,479.25 148.58,479.27 148.94,479.30 149.29,479.32 149.65,479.34 150.01,479.37 150.36,479.39 150.72,479.41 151.08,479.44 151.44,479.46 151.79,479.49 152.15,479.51 152.51,479.53 152.86,479.56 153.22,479.58 153.58,479.60 153.93,479.63 154.29,479.65 154.65,479.67 155.01,479.69 155.36,479.70 155.72,479.69 156.08,479.69 156.43,479.68 156.79,479.68 157.15,479.67 157.51,479.67 157.86,479.66 158.22,479.66 158.58,479.65 158.93,479.64 159.29,479.64 159.65,479.63 160.01,479.63 160.36,479.62 160.72,479.62 161.08,479.61 161.43,479.61 161.79,479.60 162.15,479.60 162.51,479.59 162.86,479.58 163.22,479.58 163.58,479.57 163.93,479.57 164.29,479.56 164.65,479.56 165.00,479.55 165.36,479.55 165.72,479.54 166.08,479.54 166.43,479.53 166.79,479.52 167.15,479.52 167.50,479.51 167.86,479.51 168.22,479.50 168.58,479.50 168.93,479.49 169.29,479.49 169.65,479.49 170.00,479.49 170.36,479.50 170.72,479.50 171.08,479.51 171.43,479.51 171.79,479.52 172.15,479.52 172.50,479.52 172.86,479.53 173.22,479.53 173.58,479.54 173.93,479.54 174.29,479.55 174.65,479.55 175.00,479.55 175.36,479.56 175.72,479.56 176.07,479.57 176.43,479.57 176.79,479.58 177.15,479.58 177.50,479.59 177.86,479.59 178.22,479.59 178.57,479.60 178.93,479.60 179.29,479.61 179.65,479.61 180.00,479.62 180.36,479.62 180.72,479.62 181.07,479.63 181.43,479.63 181.79,479.64 182.15,479.64 182.50,479.65 182.86,479.65 183.22,479.65 183.57,479.66 183.93,479.66 184.29,479.67 184.65,479.67 185.00,479.68 185.36,479.68 185.72,479.69 186.07,479.69 186.43,479.69 186.79,479.70 187.15,479.70 187.50,479.70 187.86,479.70 188.22,479.70 188.57,479.69 188.93,479.69 189.29,479.69 189.64,479.68 190.00,479.68 190.36,479.68 190.72,479.68 191.07,479.67 191.43,479.67 191.79,479.67 192.14,479.66 192.50,479.66 192.86,479.66 193.22,479.65 193.57,479.65 193.93,479.65 194.29,479.65 194.64,479.64 195.00,479.64 195.36,479.64 195.72,479.63 196.07,479.63 196.43,479.63 196.79,479.63 197.14,479.62 197.50,479.62 197.86,479.62 198.22,479.61 198.57,479.61 198.93,479.61 199.29,479.61 199.64,479.60 200.00,479.60 200.36,479.60 200.71,479.59 201.07,479.59 201.43,479.59 201.79,479.59 202.14,479.58 202.50,479.58 202.86,479.58 203.21,479.57 203.57,479.57 203.93,479.57 204.29,479.56 204.64,479.56 205.00,479.56" stroke="#e8262a" stroke-width="1.35"/>
</g>
<rect x="26.45" y="425.40" width="178.55" height="83.60" fill="none" stroke="#6e6e6e" stroke-width="0.90"/>
<path d="M26.45 509.00v-2.00M26.45 425.40v2.00M44.30 509.00v-1.20M44.30 425.40v1.20M62.16 509.00v-2.00M62.16 425.40v2.00M80.02 509.00v-1.20M80.02 425.40v1.20M97.87 509.00v-2.00M97.87 425.40v2.00M115.73 509.00v-1.20M115.73 425.40v1.20M133.58 509.00v-2.00M133.58 425.40v2.00M151.44 509.00v-1.20M151.44 425.40v1.20M169.29 509.00v-2.00M169.29 425.40v2.00M187.14 509.00v-1.20M187.14 425.40v1.20M205.00 509.00v-2.00M205.00 425.40v2.00M26.45 509.00h2.00M205.00 509.00h-2.00M26.45 501.73h1.20M205.00 501.73h-1.20M26.45 494.46h2.00M205.00 494.46h-2.00M26.45 487.19h1.20M205.00 487.19h-1.20M26.45 479.92h2.00M205.00 479.92h-2.00M26.45 472.65h1.20M205.00 472.65h-1.20M26.45 465.38h2.00M205.00 465.38h-2.00M26.45 458.11h1.20M205.00 458.11h-1.20M26.45 450.84h2.00M205.00 450.84h-2.00M26.45 443.57h1.20M205.00 443.57h-1.20M26.45 436.30h2.00M205.00 436.30h-2.00M26.45 429.03h1.20M205.00 429.03h-1.20" stroke="#6e6e6e" stroke-width="0.90" fill="none"/>
<g style="font-size:10.00px"><text x="28.60" y="520.10" text-anchor="middle">0</text><text x="63.60" y="520.10" text-anchor="middle">200</text><text x="98.60" y="520.10" text-anchor="middle">400</text><text x="133.60" y="520.10" text-anchor="middle">600</text><text x="168.60" y="520.10" text-anchor="middle">800</text><text x="203.60" y="520.10" text-anchor="middle">1000</text><text x="24.05" y="512.40" text-anchor="end">−4</text><text x="24.05" y="497.86" text-anchor="end">−2</text><text x="24.05" y="483.32" text-anchor="end">0</text><text x="24.05" y="468.78" text-anchor="end">2</text><text x="24.05" y="454.24" text-anchor="end">4</text><text x="24.05" y="439.70" text-anchor="end">6</text></g>
<text transform="translate(116.12 531.00) scale(1 0.920)" text-anchor="middle" style="font-size:11.50px">Time/μs</text>
<text transform="translate(12.05 467.00) rotate(-90)" text-anchor="middle" style="font-size:12.25px">E/(V/m)</text>
<text transform="translate(117.35 422.00) scale(1 0.880)" text-anchor="middle" style="font-size:11.70px">Minimum feature=64</text>
<text transform="translate(120.60 545.00) scale(1 0.890)" text-anchor="middle" style="font-size:11.70px">(g)−CG, CR=93.6%, R<tspan dy="-4.0" style="font-size:6.9px;stroke:#000;stroke-width:0.35px">2</tspan><tspan dy="4.0">=98.89%</tspan></text>
<rect x="106.10" y="430.30" width="92.40" height="27.50" fill="#fff" stroke="#000" stroke-width="1.4"/>
<path d="M107.30 437.70h23.6" stroke="#333333" stroke-width="1.20"/>
<path d="M107.30 450.70h23.6" stroke="#ee3b3f" stroke-width="1.0"/>
<text x="133.50" y="441.20" style="font-size:10.3px">Original</text>
<text x="133.50" y="454.20" style="font-size:10.3px">Reconstructed</text>
<clipPath id="ch"><rect x="244.30" y="425.10" width="178.50" height="83.75"/></clipPath>
<g clip-path="url(#ch)" fill="none" stroke-linejoin="round">
<polyline points="244.30,479.14 251.44,479.28 258.58,478.99 267.24,479.14 268.65,431.73 269.47,441.85 270.36,449.13 271.13,449.86 271.31,460.78 272.15,462.53 273.04,469.01 273.93,474.99 275.61,469.45 276.73,477.32 278.14,488.39 279.54,483.80 280.75,471.27 282.25,483.29 283.64,485.62 285.53,495.74 286.84,498.51 288.73,488.39 290.53,498.51 292.44,500.84 293.83,493.92 295.64,489.33 297.24,479.57 299.33,484.67 300.74,481.90 301.33,481.18 304.74,478.48 308.24,478.48 311.63,477.10 315.82,477.46 319.23,479.21 320.63,476.66 323.43,478.92 326.82,473.60 328.93,477.10 330.32,480.52 333.12,480.30 335.82,478.48 339.32,481.90 342.03,484.02 345.53,483.29 349.62,484.67 353.11,481.90 356.40,480.67 365.14,478.99 372.82,479.50 387.10,479.28 404.95,479.50 422.80,479.36" stroke="#333333" stroke-width="1.20"/>
<polyline points="244.30,479.72 267.24,479.72 268.65,431.73 269.29,441.12 269.83,448.40 270.27,454.96 270.81,460.42 271.43,462.24 272.15,462.79 272.50,464.73 272.86,467.19 273.22,469.69 273.57,472.04 273.93,473.70 274.29,473.81 274.65,472.85 275.00,471.70 275.36,470.70 275.72,470.70 276.07,472.31 276.43,474.71 276.79,477.28 277.14,479.99 277.50,482.78 277.86,485.42 278.22,487.12 278.57,487.05 278.93,486.02 279.29,484.73 279.64,482.75 280.00,479.67 280.36,476.17 280.71,473.64 281.07,473.83 281.43,476.17 281.79,478.98 282.14,481.56 282.50,483.29 282.86,484.16 283.21,484.80 283.57,485.59 283.93,486.90 284.28,488.68 284.64,490.58 285.00,492.49 285.36,494.31 285.71,495.75 286.07,496.71 286.43,497.44 286.78,497.78 287.14,497.01 287.50,495.34 287.85,493.45 288.21,491.56 288.57,490.00 288.93,489.77 289.28,491.15 289.64,493.10 290.00,495.09 290.35,496.98 290.71,498.34 291.07,499.05 291.42,499.51 291.78,499.94 292.14,500.30 292.50,500.16 292.85,499.05 293.21,497.38 293.57,495.64 293.92,494.13 294.28,493.00 294.64,492.06 294.99,491.15 295.35,490.19 295.71,488.93 296.06,487.11 296.42,484.99 296.78,482.86 297.14,481.05 297.49,480.40 297.85,480.91 298.21,481.75 298.56,482.62 298.92,483.47 299.28,484.09 299.63,484.07 299.99,483.51 300.35,482.82 300.71,482.16 301.06,481.62 301.42,481.21 301.78,480.89 302.13,480.60 302.49,480.32 302.85,480.03 303.21,479.75 303.56,479.47 303.92,479.19 304.28,478.91 304.63,478.66 304.99,478.52 305.35,478.48 305.70,478.48 306.06,478.48 306.42,478.48 306.77,478.48 307.13,478.48 307.49,478.48 307.85,478.48 308.20,478.45 308.56,478.37 308.92,478.23 309.27,478.09 309.63,477.94 309.99,477.80 310.35,477.65 310.70,477.51 311.06,477.36 311.42,477.23 311.77,477.14 312.13,477.14 312.49,477.17 312.84,477.20 313.20,477.23 313.56,477.26 313.92,477.29 314.27,477.32 314.63,477.35 314.99,477.38 315.34,477.42 315.70,477.46 316.06,477.57 316.41,477.73 316.77,477.91 317.13,478.09 317.49,478.28 317.84,478.46 318.20,478.64 318.56,478.82 318.91,478.98 319.27,478.96 319.63,478.58 319.98,477.97 320.34,477.35 320.70,476.96 321.06,476.99 321.41,477.24 321.77,477.52 322.13,477.81 322.48,478.10 322.84,478.38 323.20,478.62 323.55,478.62 323.91,478.25 324.27,477.71 324.62,477.16 324.98,476.60 325.34,476.04 325.70,475.48 326.05,474.92 326.41,474.38 326.77,474.00 327.12,474.10 327.48,474.59 327.84,475.17 328.19,475.76 328.55,476.36 328.91,477.01 329.27,477.78 329.62,478.63 329.98,479.49 330.34,480.16 330.69,480.44 331.05,480.47 331.41,480.44 331.76,480.41 332.12,480.39 332.48,480.36 332.84,480.32 333.19,480.23 333.55,480.05 333.91,479.82 334.26,479.58 334.62,479.34 334.98,479.10 335.34,478.86 335.69,478.68 336.05,478.72 336.41,478.99 336.76,479.34 337.12,479.69 337.48,480.04 337.83,480.39 338.19,480.73 338.55,481.08 338.91,481.43 339.26,481.77 339.62,482.08 339.98,482.36 340.33,482.64 340.69,482.92 341.05,483.20 341.40,483.47 341.76,483.74 342.12,483.91 342.48,483.93 342.83,483.86 343.19,483.79 343.55,483.72 343.90,483.64 344.26,483.57 344.62,483.49 344.97,483.42 345.33,483.36 345.69,483.36 346.05,483.44 346.40,483.56 346.76,483.68 347.12,483.80 347.47,483.92 347.83,484.04 348.19,484.16 348.54,484.29 348.90,484.41 349.26,484.52 349.62,484.56 349.97,484.42 350.33,484.16 350.69,483.88 351.04,483.60 351.40,483.32 351.76,483.03 352.11,482.75 352.47,482.47 352.83,482.19 353.19,481.95 353.54,481.78 353.90,481.64 354.26,481.50 354.61,481.37 354.97,481.23 355.33,481.10 355.68,480.96 356.04,480.83 356.40,480.71 356.75,480.62 357.11,480.54 357.47,480.47 357.83,480.41 358.18,480.34 358.54,480.27 358.90,480.20 359.25,480.13 359.61,480.06 359.97,480.00 360.33,479.93 360.68,479.86 361.04,479.79 361.40,479.72 361.75,479.65 362.11,479.59 362.47,479.52 362.82,479.45 363.18,479.38 363.54,479.31 363.90,479.24 364.25,479.18 364.61,479.11 364.97,479.05 365.32,479.02 365.68,479.02 366.04,479.05 366.39,479.07 366.75,479.09 367.11,479.12 367.47,479.14 367.82,479.16 368.18,479.19 368.54,479.21 368.89,479.24 369.25,479.26 369.61,479.28 369.96,479.31 370.32,479.33 370.68,479.35 371.04,479.38 371.39,479.40 371.75,479.43 372.11,479.45 372.46,479.47 372.82,479.49 373.18,479.49 373.53,479.49 373.89,479.49 374.25,479.48 374.61,479.47 374.96,479.47 375.32,479.46 375.68,479.46 376.03,479.45 376.39,479.45 376.75,479.44 377.10,479.44 377.46,479.43 377.82,479.43 378.18,479.42 378.53,479.41 378.89,479.41 379.25,479.40 379.60,479.40 379.96,479.39 380.32,479.39 380.67,479.38 381.03,479.38 381.39,479.37 381.75,479.37 382.10,479.36 382.46,479.35 382.82,479.35 383.17,479.34 383.53,479.34 383.89,479.33 384.24,479.33 384.60,479.32 384.96,479.32 385.32,479.31 385.67,479.31 386.03,479.30 386.39,479.29 386.74,479.29 387.10,479.29 387.46,479.29 387.81,479.29 388.17,479.29 388.53,479.30 388.88,479.30 389.24,479.31 389.60,479.31 389.96,479.32 390.31,479.32 390.67,479.33 391.03,479.33 391.38,479.33 391.74,479.34 392.10,479.34 392.46,479.35 392.81,479.35 393.17,479.36 393.53,479.36 393.88,479.36 394.24,479.37 394.60,479.37 394.95,479.38 395.31,479.38 395.67,479.39 396.02,479.39 396.38,479.40 396.74,479.40 397.10,479.40 397.45,479.41 397.81,479.41 398.17,479.42 398.52,479.42 398.88,479.43 399.24,479.43 399.60,479.43 399.95,479.44 400.31,479.44 400.67,479.45 401.02,479.45 401.38,479.46 401.74,479.46 402.09,479.47 402.45,479.47 402.81,479.47 403.17,479.48 403.52,479.48 403.88,479.49 404.24,479.49 404.59,479.50 404.95,479.50 405.31,479.50 405.66,479.50 406.02,479.49 406.38,479.49 406.74,479.49 407.09,479.48 407.45,479.48 407.81,479.48 408.16,479.48 408.52,479.47 408.88,479.47 409.23,479.47 409.59,479.46 409.95,479.46 410.31,479.46 410.66,479.46 411.02,479.45 411.38,479.45 411.73,479.45 412.09,479.44 412.45,479.44 412.80,479.44 413.16,479.43 413.52,479.43 413.88,479.43 414.23,479.43 414.59,479.42 414.95,479.42 415.30,479.42 415.66,479.41 416.02,479.41 416.37,479.41 416.73,479.41 417.09,479.40 417.44,479.40 417.80,479.40 418.16,479.39 418.52,479.39 418.87,479.39 419.23,479.39 419.59,479.38 419.94,479.38 420.30,479.38 420.66,479.37 421.01,479.37 421.37,479.37 421.73,479.36 422.09,479.36 422.44,479.36 422.80,479.36" stroke="#e8262a" stroke-width="1.35"/>
</g>
<rect x="244.30" y="425.10" width="178.50" height="83.75" fill="none" stroke="#6e6e6e" stroke-width="0.90"/>
<path d="M244.30 508.85v-2.00M244.30 425.10v2.00M262.15 508.85v-1.20M262.15 425.10v1.20M280.00 508.85v-2.00M280.00 425.10v2.00M297.85 508.85v-1.20M297.85 425.10v1.20M315.70 508.85v-2.00M315.70 425.10v2.00M333.55 508.85v-1.20M333.55 425.10v1.20M351.40 508.85v-2.00M351.40 425.10v2.00M369.25 508.85v-1.20M369.25 425.10v1.20M387.10 508.85v-2.00M387.10 425.10v2.00M404.95 508.85v-1.20M404.95 425.10v1.20M422.80 508.85v-2.00M422.80 425.10v2.00M244.30 508.85h2.00M422.80 508.85h-2.00M244.30 501.57h1.20M422.80 501.57h-1.20M244.30 494.28h2.00M422.80 494.28h-2.00M244.30 487.00h1.20M422.80 487.00h-1.20M244.30 479.72h2.00M422.80 479.72h-2.00M244.30 472.44h1.20M422.80 472.44h-1.20M244.30 465.15h2.00M422.80 465.15h-2.00M244.30 457.87h1.20M422.80 457.87h-1.20M244.30 450.59h2.00M422.80 450.59h-2.00M244.30 443.31h1.20M422.80 443.31h-1.20M244.30 436.02h2.00M422.80 436.02h-2.00M244.30 428.74h1.20M422.80 428.74h-1.20" stroke="#6e6e6e" stroke-width="0.90" fill="none"/>
<g style="font-size:10.00px"><text x="246.45" y="519.95" text-anchor="middle">0</text><text x="281.44" y="519.95" text-anchor="middle">200</text><text x="316.43" y="519.95" text-anchor="middle">400</text><text x="351.42" y="519.95" text-anchor="middle">600</text><text x="386.41" y="519.95" text-anchor="middle">800</text><text x="421.40" y="519.95" text-anchor="middle">1000</text><text x="241.90" y="512.25" text-anchor="end">−4</text><text x="241.90" y="497.68" text-anchor="end">−2</text><text x="241.90" y="483.12" text-anchor="end">0</text><text x="241.90" y="468.55" text-anchor="end">2</text><text x="241.90" y="453.99" text-anchor="end">4</text><text x="241.90" y="439.42" text-anchor="end">6</text></g>
<text transform="translate(333.95 531.40) scale(1 0.920)" text-anchor="middle" style="font-size:11.50px">Time/μs</text>
<text transform="translate(230.15 467.00) rotate(-90)" text-anchor="middle" style="font-size:12.30px">E/(V/m)</text>
<text transform="translate(335.40 421.30) scale(1 0.880)" text-anchor="middle" style="font-size:11.70px">Minimum feature=128</text>
<text transform="translate(335.35 545.00) scale(1 0.890)" text-anchor="middle" style="font-size:11.70px">(h)−CG, CR=87.2%, R<tspan dy="-4.0" style="font-size:6.9px;stroke:#000;stroke-width:0.35px">2</tspan><tspan dy="4.0">=98.70%</tspan></text>
<rect x="320.90" y="429.30" width="92.40" height="27.50" fill="#fff" stroke="#000" stroke-width="1.4"/>
<path d="M322.10 436.70h23.6" stroke="#333333" stroke-width="1.20"/>
<path d="M322.10 449.70h23.6" stroke="#ee3b3f" stroke-width="1.0"/>
<text x="348.30" y="440.20" style="font-size:10.3px">Original</text>
<text x="348.30" y="453.20" style="font-size:10.3px">Reconstructed</text>
</svg>
</body></html>
